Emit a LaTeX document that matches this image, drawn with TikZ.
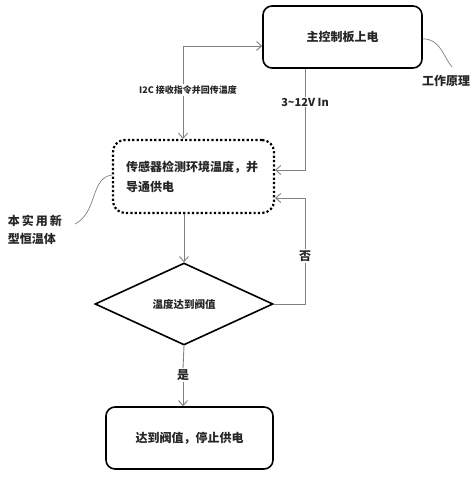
\documentclass[tikz,border=0pt]{standalone}
\usepackage{fontspec}
\setmainfont{Noto Sans CJK SC}
\usetikzlibrary{arrows.meta, positioning, shapes.geometric}
\colorlet{linkgray}{black!50}
\colorlet{textgray}{black!85}

\begin{document}
\begin{tikzpicture}[x=1pt, y=-1pt, >={Straight Barb[length=5pt, width=9pt]},
    stepbox/.style={draw, rounded corners=9pt, line width=1.6pt, text=textgray,
      font=\fontsize{12}{15}\selectfont\bfseries},
    sensebox/.style={draw, rounded corners=12pt, line width=2.2pt,
      dash pattern=on 2.2pt off 2.2pt, text=textgray, align=left,
      font=\fontsize{12}{20}\selectfont\bfseries},
    checkbox/.style={draw, diamond, line width=1.6pt, inner sep=0pt, text=textgray,
      font=\fontsize{10.5}{13}\selectfont\bfseries},
    link/.style={draw=linkgray, line width=0.9pt},
    tag/.style={inner sep=1pt, text=textgray, font=\fontsize{11}{13}\selectfont\bfseries}]
    \useasboundingbox (0,0) rectangle (474,477);

    % Boxes
    \node[stepbox, minimum width=159pt, minimum height=62pt] (power) at (342.5,37) {主控制板上电};
    \node[sensebox, minimum width=161pt, minimum height=73pt, text width=135pt] (sense) at (193.5,176.5)
      {传感器检测环境温度，并\\导通供电};
    \node[checkbox, minimum width=178pt, minimum height=82pt] (check) at (184,304) {温度达到阀值};
    \node[stepbox, minimum width=167pt, minimum height=62pt] (stop) at (189.5,438) {达到阀值，停止供电};

    % Connector labels
    \node[tag, font=\fontsize{9}{11}\selectfont\bfseries] (i2c) at (188,90) {I2C 接收指令并回传温度};
    \node[tag] (vin) at (305,102) {3\textasciitilde12V In};
    \node[tag, font=\fontsize{12}{14}\selectfont\bfseries] (no) at (305,256) {否};
    \node[tag, font=\fontsize{12}{14}\selectfont\bfseries] (yes) at (183,375) {是};

    % Side notes
    \node[tag, font=\fontsize{12}{14}\selectfont\bfseries] (note) at (446,81) {工作原理};
    \node[tag, align=left, font=\fontsize{12}{18}\selectfont\bfseries] (body) at (35,230)
      {本\,实\,用\,新\\型恒温体};

    % I2C link
    \coordinate (i2cTurn) at (183,46);
    \draw[link, ->] (i2cTurn |- i2c.north) -- (i2cTurn) -- (power.west |- i2cTurn);
    \draw[link, ->] (i2cTurn |- i2c.south) -- (sense.north -| i2cTurn);

    % Supply link
    \coordinate (vinTurn) at (305,170);
    \draw[link] (power.south -| vin) -- (vin.north);
    \draw[link, ->] (vin.south) -- (vinTurn) -- (sense.east |- vinTurn);

    % Flow
    \draw[link, ->] (check.north |- sense.south) -- (check.north);
    \coordinate (noTurn) at (305,198);
    \draw[link] (check.east) -- (check.east -| no) -- (no.south);
    \draw[link, ->] (no.north) -- (noTurn) -- (sense.east |- noTurn);
    \draw[link] (check.south) -- (yes.north);
    \draw[link, ->] (yes.south) -- (stop.north -| yes);

    % Note curves
    \draw[link, line width=0.7pt] (power.east |- 0,39) .. controls (440,38) and (444,58) .. (452,67);
    \draw[link, line width=0.7pt] (sense.west |- 0,175) .. controls (90,178) and (98,212) .. (75,224);
\end{tikzpicture}
\end{document}
